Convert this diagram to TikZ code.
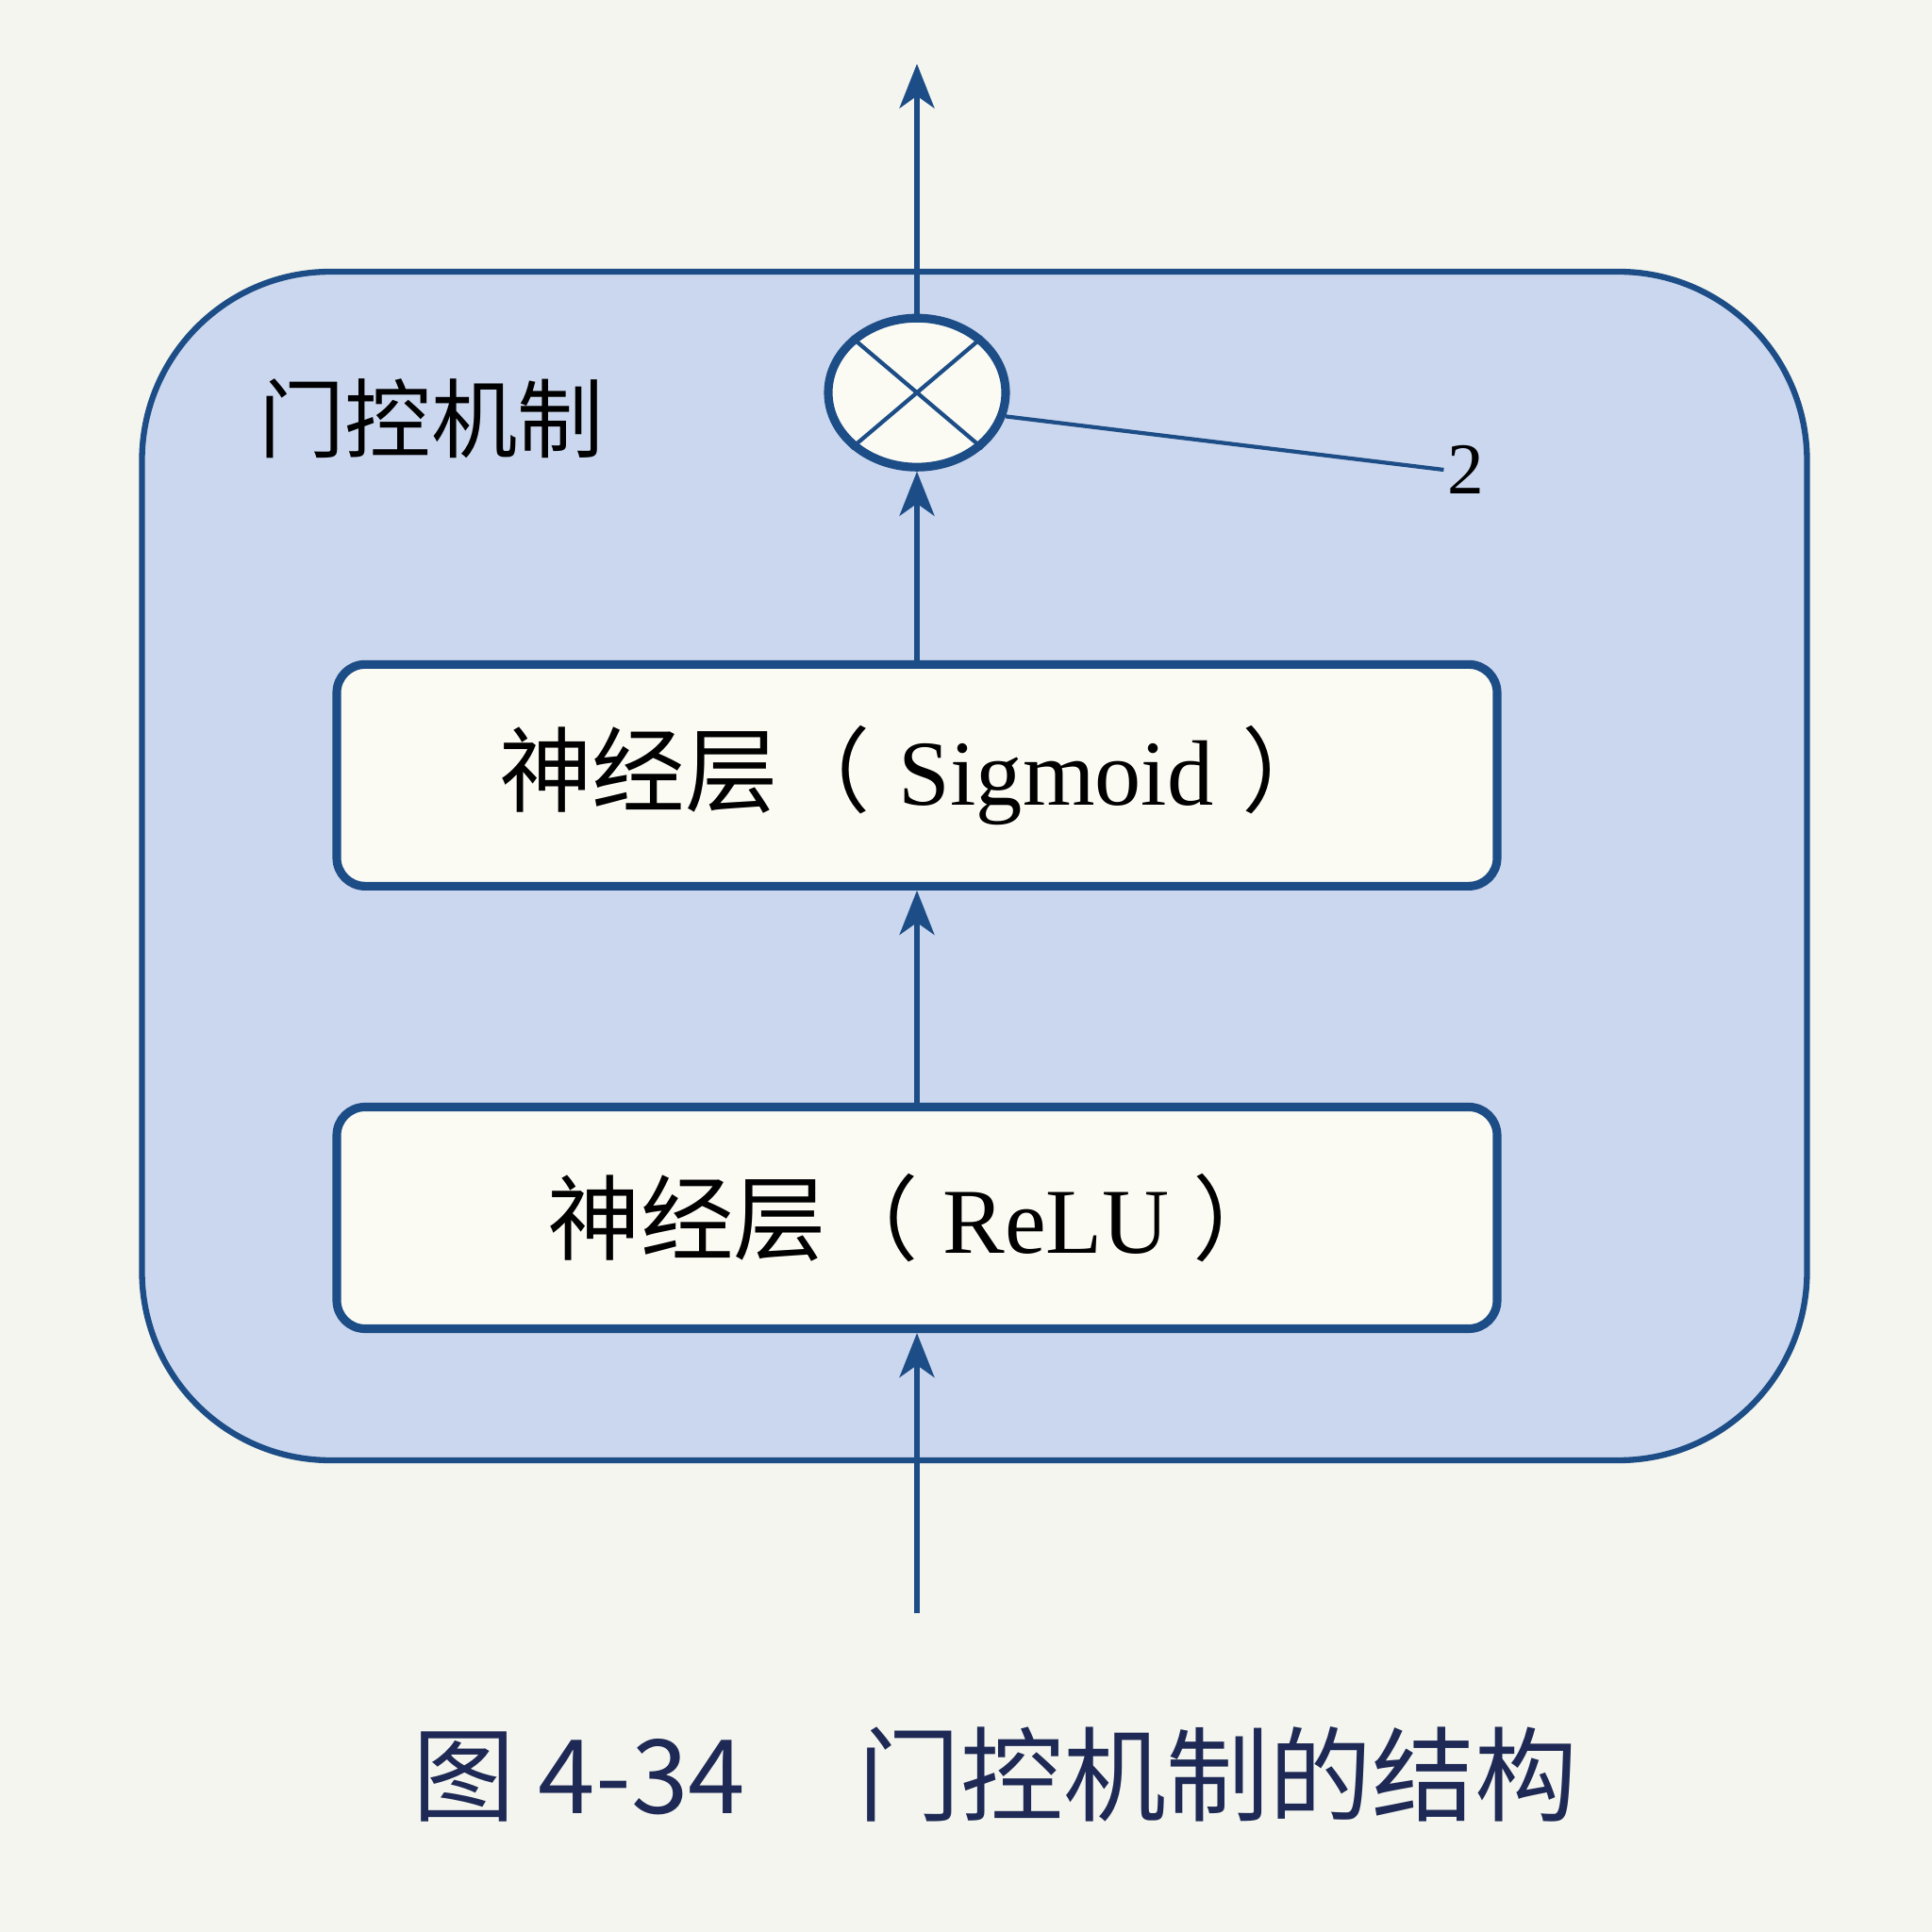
\documentclass[tikz,border=0pt]{standalone}
\usepackage{fontspec}
\setmainfont{Liberation Serif}
\newfontfamily\cjk{Noto Sans CJK SC}
\usetikzlibrary{arrows.meta,positioning,shapes.geometric}
\definecolor{pagecol}{HTML}{F4F5EE}
\definecolor{panelcol}{HTML}{CBD7EE}
\definecolor{linecol}{HTML}{1D4D86}
\definecolor{boxcol}{HTML}{FBFBF4}
\definecolor{captcol}{HTML}{1E2A55}
\newcommand{\layertext}[2]{{\cjk 神经层（}\hspace{#2}#1\hspace{#2}{\cjk ）}}
\tikzset{
  panel/.style={
    rectangle, draw=linecol, fill=panelcol, line width=1.8pt,
    minimum width=17.65cm, minimum height=12.6cm,
    rounded corners=2cm,
  },
  layer/.style={
    rectangle, draw=linecol, fill=boxcol, line width=2.6pt,
    minimum width=12.3cm, minimum height=2.35cm,
    text centered, font=\fontsize{28}{30}\selectfont,
    rounded corners=0.3cm,
  },
  gate/.style={
    ellipse, draw=linecol, fill=boxcol, line width=2.6pt,
    minimum width=1.88cm, minimum height=1.58cm, inner sep=0pt,
  },
  arr/.style={-{Stealth[length=4.7mm,width=3.7mm,inset=1.3mm]}, line width=1.5pt, draw=linecol},
  lbl/.style={font=\cjk\fontsize{26}{28}\selectfont, text=black},
}
\begin{document}
\begin{tikzpicture}[node distance=2.2cm]
\useasboundingbox[fill=pagecol] (0,0) rectangle (20.48,20.48);

% ===== Panel =====
\node[panel] (panelbox) at (10.33,11.30) {};
\node[lbl] (title) at (4.57,16.04) {门控机制};

% ===== Layers =====
\node[layer] (relu) at (9.72,7.57) {\layertext{ReLU}{0.25cm}};
\node[layer, above=2.25cm of relu] (sig) {\layertext{Sigmoid}{0.3cm}};
\node[gate, above=2.0cm of sig] (gate) {};
\draw[linecol, line width=1.2pt] (gate.north west) -- (gate.south east)
  (gate.north east) -- (gate.south west);

\coordinate[below=2.97cm of relu] (in);
\coordinate[above=2.65cm of gate.north] (out);

\draw[arr] (in) -- (relu);
\draw[arr] (relu) -- (sig);
\draw[arr] (sig) -- (gate);
\draw[arr] (gate) -- (out);

% callout
\node[inner sep=1pt, font=\fontsize{22}{24}\selectfont] (two) at (15.54,15.50) {2};
\draw[linecol, line width=1.2pt] (gate.-15) -- (two.west);

% ===== Caption =====
\node[font=\cjk\fontsize{31}{34}\selectfont, text=captcol] (caption) at (10.55,1.67)
  {图 4-34\hspace{1.2cm}门控机制的结构};

\end{tikzpicture}
\end{document}
